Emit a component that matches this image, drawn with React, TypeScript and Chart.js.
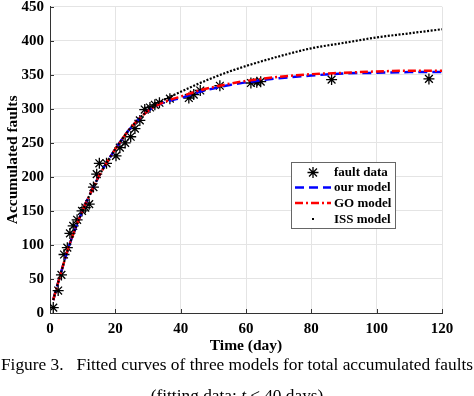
import React, { useEffect, useRef } from "react";
import { Chart, registerables } from "chart.js";

Chart.register(...registerables);

// Observed data (day, accumulated faults)
const faultDays = [1, 2.5, 3.5, 4.3, 5.3, 6.1, 7.1, 8.3, 9.8, 10.8, 12, 13.3, 14.3, 15.1, 17.3, 20.2, 21.4, 23, 24.7, 26, 27.5, 29, 30.6, 32.1, 33.5, 36.7, 42.5, 44, 46, 52, 61.5, 63.3, 64.5, 86.2, 116];
const faultCount = [8, 33, 56, 86, 96, 117, 128, 137, 150, 155, 160, 185, 204, 220, 220, 231, 243, 250, 259, 271, 283, 299, 302, 306, 309, 315, 316, 321, 327, 334, 338, 339, 340, 343, 344];

// Fitted model curves, read at these days
const modelDays = [1, 2, 3, 4, 5, 6, 8, 10, 12, 14, 16, 18, 20, 22, 24, 26, 28, 30, 33, 36, 40, 45, 50, 55, 60, 70, 80, 90, 100, 110, 120];
const ourModel = [19, 37, 53, 70, 86, 101, 127, 151, 172, 192, 210, 226, 241, 255, 268, 279, 289, 297, 306, 311, 316, 324, 330, 335, 339, 345, 349, 352, 353, 354, 354];
const goModel = [19, 37, 53, 70, 86, 101, 127, 151, 172, 192, 210, 226, 241, 255, 268, 279, 289, 297, 306, 312, 318, 326, 332, 337, 341, 347, 351, 353, 355, 356, 356];
const issModel = [19, 37, 53, 70, 86, 101, 127, 151, 172, 192, 210, 226, 241, 255, 268, 279, 289, 298, 308, 316, 325, 336, 346, 355, 363, 377, 389, 397, 405, 411, 417];

const xTickValues = [0, 20, 40, 60, 80, 100, 120];
const yTickValues = [0, 50, 100, 150, 200, 250, 300, 350, 400, 450];

const legendLabels = ["fault data", "our model", "GO model", "ISS model"];
const xTitle = "Time (day)";
const yTitle = "Accumulated faults";
const captionLine1 = "Figure 3.   Fitted curves of three models for total accumulated faults";
const captionLine2a = "(fitting data: ";
const captionLine2b = "t";
const captionLine2c = " \u2264 40 days)";

const SERIF = "'Liberation Serif', 'Times New Roman', serif";

function drawStar(ctx: CanvasRenderingContext2D, x: number, y: number, r: number) {
  ctx.beginPath();
  ctx.moveTo(x - r, y); ctx.lineTo(x + r, y);
  ctx.moveTo(x, y - r); ctx.lineTo(x, y + r);
  const d = r * 0.72;
  ctx.moveTo(x - d, y - d); ctx.lineTo(x + d, y + d);
  ctx.moveTo(x - d, y + d); ctx.lineTo(x + d, y - d);
  ctx.stroke();
}

const decorPlugin = {
  id: "decor",
  afterDatasetsDraw(chart: any) {
    const ctx: CanvasRenderingContext2D = chart.ctx;
    const { left, bottom } = chart.chartArea;
    const xs = chart.scales.x;
    const ys = chart.scales.y;
    ctx.save();
    // inward tick marks
    ctx.strokeStyle = "#333";
    ctx.lineWidth = 1;
    ctx.beginPath();
    xTickValues.forEach((v) => {
      const px = Math.round(xs.getPixelForValue(v)) + 0.5;
      ctx.moveTo(px, bottom);
      ctx.lineTo(px, bottom - 4);
    });
    yTickValues.forEach((v) => {
      const py = Math.round(ys.getPixelForValue(v)) + 0.5;
      ctx.moveTo(left, py);
      ctx.lineTo(left + 4, py);
    });
    ctx.stroke();

    // legend box
    const bx = 291, by = 162, bw = 104, bh = 66;
    ctx.fillStyle = "#fff";
    ctx.fillRect(bx, by, bw, bh);
    ctx.strokeStyle = "#666";
    ctx.lineWidth = 1;
    ctx.strokeRect(bx + 0.5, by + 0.5, bw, bh);
    const rows = [172.5, 187.5, 203, 219];
    const lx0 = 295, lx1 = 331, tx = 334;
    // fault data
    ctx.strokeStyle = "#000";
    ctx.lineWidth = 1.3;
    drawStar(ctx, 313, rows[0], 5.5);
    // our model
    ctx.lineWidth = 2.5;
    ctx.strokeStyle = "#0000ff";
    ctx.setLineDash([9, 5]);
    ctx.beginPath(); ctx.moveTo(lx0, rows[1]); ctx.lineTo(lx1, rows[1]); ctx.stroke();
    // GO model
    ctx.strokeStyle = "#ff0000";
    ctx.setLineDash([8, 3, 2, 3]);
    ctx.beginPath(); ctx.moveTo(lx0, rows[2]); ctx.lineTo(lx1, rows[2]); ctx.stroke();
    ctx.setLineDash([]);
    // ISS model
    ctx.fillStyle = "#000";
    ctx.fillRect(312, rows[3] - 1, 2, 2);
    ctx.fillStyle = "#000";
    ctx.font = "bold 13px " + SERIF;
    ctx.textBaseline = "middle";
    ctx.textAlign = "left";
    legendLabels.forEach((l, i) => ctx.fillText(l, tx, rows[i] + 0.5));
    ctx.restore();
  },
  afterDraw(chart: any) {
    const ctx: CanvasRenderingContext2D = chart.ctx;
    ctx.save();
    ctx.fillStyle = "#000";
    ctx.textBaseline = "middle";
    ctx.font = "15px " + SERIF;
    const w = ctx.measureText(captionLine1).width;
    const size = 15 * 472 / w;
    ctx.font = size.toFixed(2) + "px " + SERIF;
    ctx.textAlign = "center";
    ctx.fillText(captionLine1, 237, 365);
    // second line (partly cut off at the bottom)
    ctx.textAlign = "left";
    const fa = size.toFixed(2) + "px " + SERIF;
    const fi = "italic " + size.toFixed(2) + "px " + SERIF;
    ctx.font = fa;
    const wa = ctx.measureText(captionLine2a).width;
    const wc = ctx.measureText(captionLine2c).width;
    ctx.font = fi;
    const wb = ctx.measureText(captionLine2b).width;
    let x = 237 - (wa + wb + wc) / 2;
    const y2 = 396;
    ctx.font = fa; ctx.fillText(captionLine2a, x, y2); x += wa;
    ctx.font = fi; ctx.fillText(captionLine2b, x, y2); x += wb;
    ctx.font = fa; ctx.fillText(captionLine2c, x, y2);
    ctx.restore();
  },
};

export default function App() {
  const ref = useRef<HTMLCanvasElement | null>(null);
  useEffect(() => {
    if (!ref.current) return;
    const faultPts = faultDays.map((d, i) => ({ x: d, y: faultCount[i] }));
    const ourPts = modelDays.map((d, i) => ({ x: d, y: ourModel[i] }));
    const goPts = modelDays.map((d, i) => ({ x: d, y: goModel[i] }));
    const issPts = modelDays.map((d, i) => ({ x: d, y: issModel[i] }));
    const chart = new Chart(ref.current, {
      type: "scatter",
      data: {
        datasets: [
          {
            label: legendLabels[0],
            data: faultPts,
            showLine: false,
            pointStyle: "star",
            pointRadius: 5.5,
            borderColor: "#000",
            backgroundColor: "#000",
            borderWidth: 1.3,
            order: 4,
          },
          {
            label: legendLabels[1],
            data: ourPts,
            showLine: true,
            pointRadius: 0,
            borderColor: "#0000ff",
            borderWidth: 2.5,
            borderDash: [9, 5],
            cubicInterpolationMode: "monotone",
            order: 3,
          },
          {
            label: legendLabels[2],
            data: goPts,
            showLine: true,
            pointRadius: 0,
            borderColor: "#ff0000",
            borderWidth: 2.5,
            borderDash: [8, 3, 2, 3],
            cubicInterpolationMode: "monotone",
            order: 2,
          },
          {
            label: legendLabels[3],
            data: issPts,
            showLine: true,
            pointRadius: 0,
            borderColor: "#000",
            borderWidth: 2.2,
            borderDash: [2, 1.6],
            cubicInterpolationMode: "monotone",
            order: 1,
          },
        ],
      } as any,
      plugins: [decorPlugin],
      options: {
        animation: false,
        responsive: false,
        devicePixelRatio: 1,
        layout: { padding: { left: 0, top: 5, right: 32, bottom: 41 } },
        plugins: { legend: { display: false }, tooltip: { enabled: false } },
        scales: {
          x: {
            type: "linear",
            min: 0,
            max: 120,
            afterBuildTicks: (s: any) => { s.ticks = xTickValues.map((v) => ({ value: v })); },
            afterFit: (s: any) => { s.height = 42; },
            grid: { color: "#e4e4e4", lineWidth: 1, drawTicks: false },
            border: { display: true, color: "#333", width: 1 },
            ticks: { color: "#000", padding: 7, font: { family: SERIF, size: 15, weight: "bold" }, maxRotation: 0 },
            title: { display: true, text: xTitle, color: "#000", padding: { top: 0, bottom: 0 }, font: { family: SERIF, size: 15.5, weight: "bold" } },
          },
          y: {
            type: "linear",
            min: 0,
            max: 450,
            afterBuildTicks: (s: any) => { s.ticks = yTickValues.map((v) => ({ value: v })); },
            afterFit: (s: any) => { s.width = 50; s.paddingTop = 0; s.paddingBottom = 0; },
            grid: { color: "#e4e4e4", lineWidth: 1, drawTicks: false },
            border: { display: true, color: "#333", width: 1 },
            ticks: { color: "#000", padding: 6, font: { family: SERIF, size: 15, weight: "bold" } },
            title: { display: true, text: yTitle, color: "#000", padding: { top: 4, bottom: 0 }, font: { family: SERIF, size: 15.5, weight: "bold" } },
          },
        },
      } as any,
    });
    return () => chart.destroy();
  }, []);
  return (
    <div style={{ position: "fixed", left: 0, top: 0, width: 474, height: 396, background: "#fff" }}>
      <canvas ref={ref} width={474} height={396} style={{ display: "block", width: 474, height: 396 }} />
    </div>
  );
}
